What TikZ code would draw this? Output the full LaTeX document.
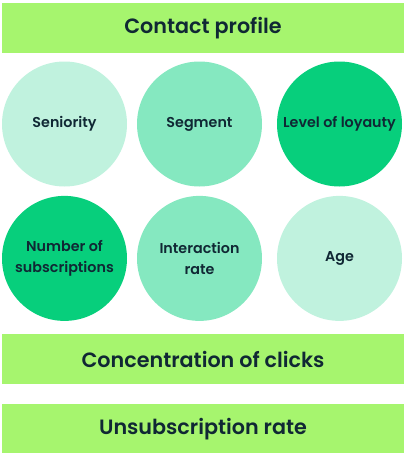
\documentclass[tikz,border=0pt]{standalone}
\usepackage{fontspec}
\setmainfont{Poppins}[BoldFont={Poppins SemiBold}]
\usepackage{xcolor}
\usepackage{tikz}
\usetikzlibrary{positioning}
\definecolor{CSlime}{RGB}{166,245,110}
\definecolor{CSpale}{RGB}{192,242,222}
\definecolor{CSmint}{RGB}{133,232,192}
\definecolor{CSgreen}{RGB}{7,207,124}
\definecolor{CSink}{RGB}{16,40,52}

\begin{document}
\begin{tikzpicture}[
      x=1pt,y=1pt,
      node distance=9pt and 12pt,
      bar/.style={fill=CSlime,minimum width=402pt,minimum height=50pt,inner sep=0pt,text=CSink,font=\bfseries\fontsize{20.7}{24}\selectfont},
      bubble/.style={circle,minimum size=125pt,inner sep=0pt,align=center,text=CSink,font=\bfseries\fontsize{14.3}{20.5}\selectfont}
    ]
    \useasboundingbox (0,0) rectangle (406,-453);
    \node[bar] (profile) at (203,-28) {Contact profile};
    \node[bubble,fill=CSpale] (seniority) at (64.5,-124) {Seniority};
    \node[bubble,fill=CSmint] (segment) at (199.5,-124) {Segment};
    \node[bubble,fill=CSgreen] (loyalty) at (339.5,-124) {Level of loyauty};
    \node[bubble,fill=CSgreen,below=of seniority] (subs) {Number of\\subscriptions};
    \node[bubble,fill=CSmint,below=of segment] (interaction) {Interaction\\rate};
    \node[bubble,fill=CSpale,below=of loyalty] (age) {Age};
    \node[bar,below=13pt of interaction.south,anchor=north,xshift=3.5pt] (clicks) {Concentration of clicks};
    \node[bar,below=19pt of clicks] (unsub) {Unsubscription rate};
  \end{tikzpicture}
\end{document}
